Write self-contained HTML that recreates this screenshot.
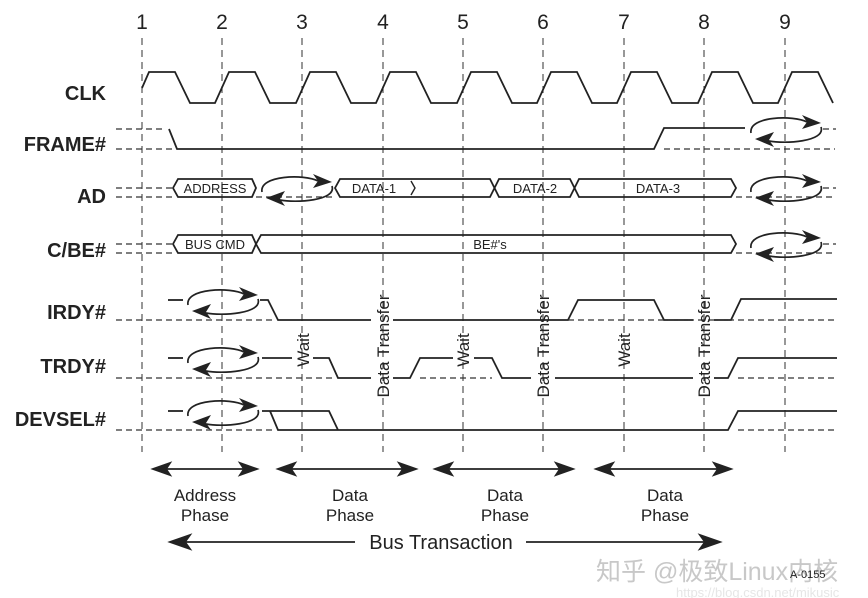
<!DOCTYPE html>
<html><head><meta charset="utf-8"><style>
html,body{margin:0;padding:0;background:#fff;}
svg{display:block;}
text{font-family:"Liberation Sans",Arial,sans-serif;fill:#222;}
.lbl{font-weight:bold;font-size:20px;}
</style></head><body>
<svg width="868" height="598" viewBox="0 0 868 598" xmlns="http://www.w3.org/2000/svg">
<defs>
<g id="loop" fill="none" stroke="#222" stroke-width="1.7">
  <path d="M1,3 C-2,-14 44,-15 57,-8"/>
  <polygon points="71,-7 52,-15 57,-8 52,-1" fill="#222" stroke="none"/>
  <path d="M71,-3 C76,12 34,14 19,11"/>
  <polygon points="5,9 24,2 19,10 24,17" fill="#222" stroke="none"/>
</g>
</defs>
<g font-size="21" text-anchor="middle">
<text x="142" y="29">1</text><text x="222" y="29">2</text><text x="302" y="29">3</text>
<text x="383" y="29">4</text><text x="463" y="29">5</text><text x="543" y="29">6</text>
<text x="624" y="29">7</text><text x="704" y="29">8</text><text x="785" y="29">9</text>
</g>
<g stroke="#444" stroke-width="1.1" stroke-dasharray="7,5">
<line x1="142" y1="38" x2="142" y2="452"/><line x1="222" y1="38" x2="222" y2="452"/>
<line x1="302" y1="38" x2="302" y2="452"/><line x1="383" y1="38" x2="383" y2="452"/>
<line x1="463" y1="38" x2="463" y2="452"/><line x1="543" y1="38" x2="543" y2="452"/>
<line x1="624" y1="38" x2="624" y2="452"/><line x1="704" y1="38" x2="704" y2="452"/>
<line x1="785" y1="38" x2="785" y2="452"/>
</g>
<g text-anchor="end">
<text class="lbl" x="106" y="100">CLK</text>
<text class="lbl" x="106" y="151">FRAME#</text>
<text class="lbl" x="106" y="203">AD</text>
<text class="lbl" x="106" y="257">C/BE#</text>
<text class="lbl" x="106" y="319">IRDY#</text>
<text class="lbl" x="106" y="373">TRDY#</text>
<text class="lbl" x="106" y="426">DEVSEL#</text>
</g>
<g fill="none" stroke="#222" stroke-width="1.8">
<path d="M142,88 L149,72 L175,72 L190,103 L215,103 L229,72 L255,72 L270,103 L296,103 L310,72 L336,72 L351,103 L376,103 L390,72 L416,72 L431,103 L457,103 L471,72 L497,72 L512,103 L537,103 L551,72 L577,72 L592,103 L617,103 L631,72 L657,72 L672,103 L698,103 L712,72 L738,72 L753,103 L778,103 L792,72 L818,72 L833,103"/>
<path d="M169,129 L177,149 L654,149 L664,128 L745,128"/>
<path d="M173,188 L178,179 L252,179 L256,188 L252,197 L178,197 Z"/>
<path d="M335,188 L340,179 L490,179 L499,197 L570,197 L579,179 L731,179 L736,188 L731,197 L579,197 L570,179 L499,179 L490,197 L340,197 Z"/>
<path d="M411,181 L415,188 L411,195" stroke-width="1.4"/>
<path d="M173,244 L178,235 L252,235 L256,244 L252,253 L178,253 Z"/>
<path d="M256,244 L261,235 L731,235 L736,244 L731,253 L261,253 Z"/>
<path d="M260,300 L268,300 L278,320 L371,320"/>
<path d="M393,320 L568,320 L578,300 L654,300 L664,320 L693,320"/>
<path d="M714,320 L731,320 L741,299 L837,299"/>
<path d="M262,358 L292,358"/><path d="M313,358 L329,358 L338,378 L371,378"/>
<path d="M393,378 L410,378 L420,358 L453,358"/><path d="M474,358 L492,358 L502,378 L531,378"/>
<path d="M555,378 L693,378"/><path d="M714,378 L728,378 L738,358 L837,358"/>
<path d="M262,411 L329,411 L338,430"/>
<path d="M270,411 L278,430 L728,430 L738,411 L837,411"/>
</g>
<g fill="none" stroke="#333" stroke-width="1.2" stroke-dasharray="6,4">
<line x1="116" y1="129" x2="165" y2="129"/><line x1="116" y1="149" x2="176" y2="149"/>
<line x1="664" y1="149" x2="835" y2="149"/><line x1="823" y1="129" x2="836" y2="129"/>
<line x1="116" y1="188" x2="172" y2="188"/><line x1="116" y1="197" x2="172" y2="197"/>
<line x1="256" y1="197" x2="335" y2="197"/><line x1="736" y1="197" x2="836" y2="197"/>
<line x1="823" y1="188" x2="836" y2="188"/>
<line x1="116" y1="244" x2="172" y2="244"/><line x1="116" y1="253" x2="172" y2="253"/>
<line x1="736" y1="253" x2="836" y2="253"/><line x1="823" y1="244" x2="836" y2="244"/>
<line x1="116" y1="320" x2="272" y2="320"/><line x1="568" y1="320" x2="837" y2="320"/>
<line x1="116" y1="378" x2="335" y2="378"/><line x1="420" y1="378" x2="492" y2="378"/><line x1="738" y1="378" x2="837" y2="378"/>
<line x1="116" y1="430" x2="272" y2="430"/><line x1="738" y1="430" x2="837" y2="430"/>
</g>
<g stroke="#222" stroke-width="1.8">
<line x1="168" y1="300" x2="183" y2="300"/><line x1="168" y1="358" x2="183" y2="358"/><line x1="168" y1="411" x2="183" y2="411"/>
</g>
<use href="#loop" x="750" y="130"/>
<use href="#loop" x="261" y="189"/>
<use href="#loop" x="750" y="189"/>
<use href="#loop" x="750" y="245"/>
<use href="#loop" x="187" y="302"/>
<use href="#loop" x="187" y="360"/>
<use href="#loop" x="187" y="413"/>
<g font-size="13" text-anchor="middle">
<text x="215" y="193">ADDRESS</text><text x="215" y="249">BUS CMD</text>
<text x="374" y="193">DATA-1</text><text x="535" y="193">DATA-2</text><text x="658" y="193">DATA-3</text>
<text x="490" y="249">BE#'s</text>
</g>
<g font-size="17" text-anchor="middle">
<text transform="translate(309,350) rotate(-90)">Wait</text>
<text transform="translate(389,346) rotate(-90)">Data Transfer</text>
<text transform="translate(469,350) rotate(-90)">Wait</text>
<text transform="translate(549,346) rotate(-90)">Data Transfer</text>
<text transform="translate(630,350) rotate(-90)">Wait</text>
<text transform="translate(710,346) rotate(-90)">Data Transfer</text>
</g>
<g stroke="#222" stroke-width="1.8" fill="#222">
<line x1="160" y1="469" x2="250" y2="469"/><polygon points="153,469 170,463 166,469 170,475"/><polygon points="257,469 240,463 244,469 240,475"/>
<line x1="285" y1="469" x2="409" y2="469"/><polygon points="278,469 295,463 291,469 295,475"/><polygon points="416,469 399,463 403,469 399,475"/>
<line x1="442" y1="469" x2="566" y2="469"/><polygon points="435,469 452,463 448,469 452,475"/><polygon points="573,469 556,463 560,469 556,475"/>
<line x1="603" y1="469" x2="724" y2="469"/><polygon points="596,469 613,463 609,469 613,475"/><polygon points="731,469 714,463 718,469 714,475"/>
<line x1="178" y1="542" x2="355" y2="542"/><polygon points="170,542 190,535 185,542 190,549"/>
<line x1="526" y1="542" x2="712" y2="542"/><polygon points="720,542 700,535 705,542 700,549"/>
</g>
<g font-size="17" text-anchor="middle">
<text x="205" y="501">Address</text><text x="205" y="521">Phase</text>
<text x="350" y="501">Data</text><text x="350" y="521">Phase</text>
<text x="505" y="501">Data</text><text x="505" y="521">Phase</text>
<text x="665" y="501">Data</text><text x="665" y="521">Phase</text>
</g>
<text x="441" y="549" font-size="20" text-anchor="middle">Bus Transaction</text>
<text x="596" y="580" font-size="25" style="fill:#c8c8c8;font-family:'Liberation Sans','Noto Sans CJK SC',sans-serif">知乎 @极致Linux内核</text>
<text x="790" y="578" font-size="11" style="fill:#222">A-0155</text>
<text x="676" y="597" font-size="13" style="fill:#e6e6e6">https://blog.csdn.net/mikusic</text>
</svg>
</body></html>
